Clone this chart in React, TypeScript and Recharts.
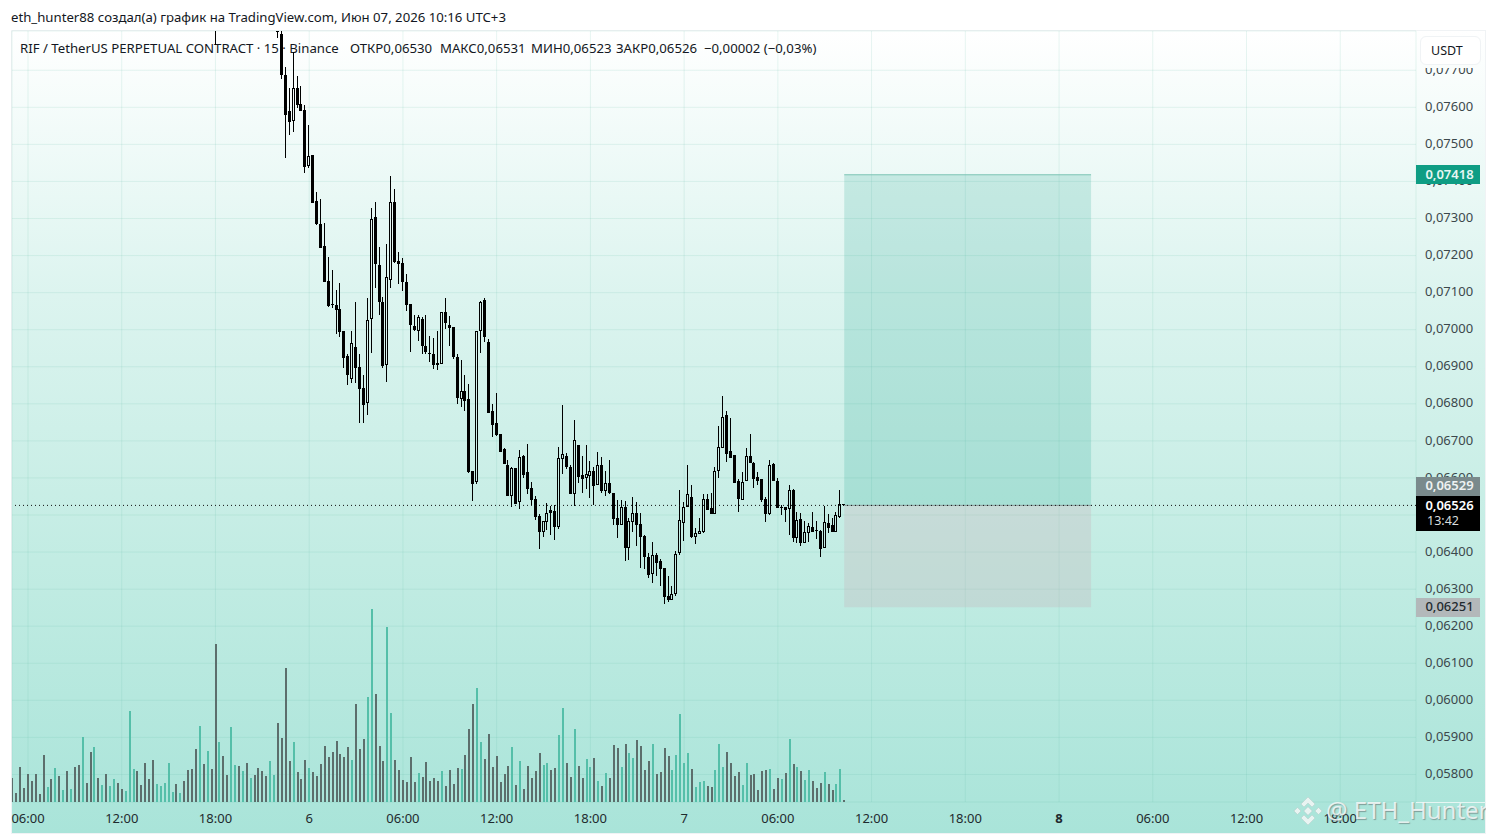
import { Bar, CartesianGrid, ComposedChart, ReferenceArea, ReferenceLine, XAxis, YAxis } from 'recharts'

// prices are in 1/100000 USDT, so 6526 reads as 0,06526
// volume is in arbitrary units, only the proportions can be read from the picture
const FIRST_BAR = -4
const FIRST_CANDLE = 64

const volumes = [
  72, 27, 105, 42, 84, 63, 84, 24, 141, 45,
  69, 102, 78, 36, 93, 39, 105, 111, 195, 57,
  150, 165, 72, 51, 84, 48, 69, 57, 39, 33,
  273, 99, 93, 51, 117, 69, 126, 54, 48, 57,
  117, 30, 54, 27, 63, 96, 99, 159, 228, 114,
  153, 99, 474, 180, 138, 81, 225, 111, 108, 93,
  117, 72, 81, 102, 93, 78, 123, 81, 237, 192,
  402, 123, 180, 90, 69, 126, 102, 90, 78, 114,
  168, 135, 150, 183, 144, 135, 165, 126, 294, 159,
  189, 315, 579, 324, 168, 123, 525, 267, 126, 96,
  66, 60, 135, 60, 87, 75, 120,
  63, 72, 63, 93, 48, 96, 54, 102, 99, 141,
  219, 294, 342, 180, 129, 204, 105, 138, 60, 84,
  108, 165, 51, 123, 39, 108, 72, 93, 147, 111,
  117, 96, 102, 201, 282, 117, 75, 219, 108, 72,
  129, 105, 132, 63, 48, 87, 72, 171, 162, 105,
  174, 147, 132, 186, 168, 96, 123, 174, 84, 90,
  162, 138, 96, 141, 264, 117, 147, 99, 45, 60,
  63, 48, 45, 96, 174, 105, 150, 117, 78, 90,
  51, 117, 81, 84, 36, 93, 96, 99, 39, 72,
  69, 87, 189, 114, 105, 93, 66, 96, 63, 42,
  57, 90, 54, 36, 54, 99, 6,
]

// g = green volume bar, d = dark volume bar
const volumeSides = (
  'dddddddddg' + 'dgdgdgddgd' + 'dgdgdggddg' + 'ggdddddggg' + 'ggdgddddgd' +
  'gddgddggdg' + 'dgddddggdd' + 'ddgdddgddd' + 'dddddddgdd' + 'dggdddggdd' + 'ddddgdd' +
  'dddgddddgd' + 'ddggdddddd' + 'dgdgdddddg' + 'gddggddgdd' + 'ggdgdgdddg' +
  'dggddddgdd' + 'ddgggggdgg' + 'gddgggdddd' + 'ggdddddgdd' + 'gdgdgdggdd' + 'dgddggd'
)

const opens = [
  7820, 7798, 7687, 7590, 7563, 7652, 7609, 7593, 7442, 7471,
  7347, 7285, 7226, 7131, 7068, 7066, 7056, 6996, 6929, 6867,
  6953, 6899, 6843, 6802, 7029, 7304, 7175, 7075, 6905, 7134,
  7344, 7185, 7180, 7129, 7069, 7010, 6996, 7029, 6956, 6937,
  6934, 6910, 6907, 7048, 7013, 7007, 6926, 6813, 6835, 6813,
  6619, 6589, 6996, 7080, 6967, 6781, 6748, 6719, 6678, 6635,
  6551, 6627, 6535, 6659, 6616, 6573, 6543, 6497, 6454, 6481,
  6514, 6511, 6468, 6651, 6659, 6630, 6557, 6689, 6608, 6600,
  6605, 6619, 6581, 6635, 6565, 6586, 6559, 6492, 6473, 6522,
  6411, 6481, 6505, 6476, 6443, 6387, 6341, 6392, 6376, 6357,
  6282, 6271, 6287, 6397, 6478, 6522, 6549, 6441, 6449, 6454,
  6543, 6519, 6503, 6619, 6681, 6770, 6673, 6662, 6592, 6540,
  6592, 6659, 6640, 6603, 6597, 6543, 6503, 6638, 6592, 6522,
  6522, 6516, 6568, 6438, 6489, 6424, 6451, 6468, 6460, 6457,
  6411, 6478, 6473, 6454, 6495, 6530,
]

const highs = [
  7830, 7806, 7709, 7652, 7749, 7684, 7657, 7606, 7552, 7471,
  7371, 7353, 7288, 7196, 7161, 7107, 7126, 6996, 6934, 6996,
  7075, 6934, 6878, 7086, 7328, 7344, 7223, 7088, 7231, 7415,
  7380, 7210, 7193, 7150, 7069, 7040, 7040, 7034, 7040, 6983,
  6978, 6996, 7048, 7086, 7037, 7007, 6934, 6918, 6878, 6853,
  6619, 6996, 7077, 7086, 6975, 6800, 6829, 6719, 6681, 6648,
  6630, 6627, 6675, 6662, 6692, 6589, 6551, 6503, 6484, 6532,
  6524, 6527, 6683, 6797, 6667, 6635, 6756, 6689, 6659, 6689,
  6646, 6630, 6670, 6656, 6619, 6648, 6559, 6540, 6540, 6538,
  6492, 6549, 6535, 6505, 6446, 6397, 6427, 6397, 6381, 6357,
  6335, 6308, 6403, 6568, 6535, 6635, 6581, 6465, 6492, 6557,
  6557, 6559, 6630, 6740, 6821, 6781, 6762, 6662, 6597, 6616,
  6681, 6719, 6643, 6616, 6597, 6549, 6648, 6640, 6600, 6527,
  6522, 6581, 6570, 6508, 6505, 6484, 6478, 6508, 6484, 6460,
  6524, 6503, 6492, 6508, 6568, 6531,
]

const lows = [
  7787, 7676, 7463, 7525, 7533, 7598, 7590, 7423, 7436, 7342,
  7282, 7220, 7129, 7061, 7058, 6988, 6980, 6897, 6851, 6856,
  6856, 6748, 6748, 6770, 6937, 7112, 7040, 6897, 6859, 7112,
  7180, 7123, 7104, 7050, 6940, 6996, 6969, 6934, 6934, 6913,
  6894, 6891, 6907, 7002, 6956, 6921, 6800, 6791, 6781, 6613,
  6538, 6584, 6937, 6967, 6775, 6710, 6713, 6670, 6638, 6551,
  6522, 6530, 6516, 6600, 6557, 6527, 6487, 6408, 6441, 6460,
  6446, 6433, 6462, 6611, 6624, 6557, 6524, 6586, 6559, 6570,
  6546, 6527, 6581, 6559, 6551, 6557, 6473, 6438, 6473, 6376,
  6379, 6454, 6416, 6357, 6354, 6330, 6317, 6335, 6308, 6260,
  6265, 6271, 6282, 6392, 6430, 6522, 6438, 6422, 6449, 6451,
  6514, 6503, 6503, 6600, 6681, 6643, 6654, 6586, 6508, 6540,
  6592, 6640, 6573, 6581, 6535, 6481, 6500, 6592, 6519, 6500,
  6481, 6446, 6427, 6424, 6416, 6424, 6427, 6454, 6435, 6387,
  6411, 6451, 6454, 6454, 6492, 6523,
]

const closes = [
  7803, 7687, 7579, 7560, 7652, 7606, 7590, 7439, 7469, 7342,
  7285, 7220, 7129, 7064, 7067, 7053, 6994, 6924, 6878, 6964,
  6897, 6840, 6797, 7026, 7299, 7177, 7075, 6902, 7142, 7344,
  7183, 7177, 7129, 7066, 7013, 6999, 7034, 6956, 6940, 6936,
  6905, 6905, 7048, 7018, 7005, 6926, 6816, 6835, 6808, 6616,
  6584, 6996, 7075, 6980, 6775, 6743, 6716, 6670, 6638, 6551,
  6627, 6530, 6656, 6608, 6570, 6540, 6495, 6454, 6484, 6505,
  6505, 6468, 6654, 6665, 6630, 6557, 6702, 6603, 6597, 6611,
  6619, 6578, 6635, 6565, 6586, 6559, 6489, 6473, 6522, 6411,
  6484, 6505, 6473, 6441, 6387, 6338, 6392, 6370, 6354, 6279,
  6271, 6287, 6395, 6487, 6522, 6557, 6441, 6451, 6457, 6543,
  6514, 6503, 6619, 6683, 6764, 6665, 6654, 6586, 6543, 6589,
  6659, 6640, 6597, 6592, 6540, 6503, 6635, 6592, 6519, 6519,
  6514, 6568, 6438, 6487, 6424, 6454, 6470, 6454, 6459, 6408,
  6481, 6465, 6454, 6500, 6530, 6526,
]

// the only candle before FIRST_CANDLE that reaches into the pane, its body is above it
const spikeCandle = { bar: 48, open: 7900, high: 7920, low: 7768, close: 7880 }

const priceTicks = [5800, 5900, 6000, 6100, 6200, 6300, 6400, 6500, 6600, 6700, 6800, 6900, 7000, 7100, 7200, 7300, 7400, 7500, 7600, 7700]
const timeTicks = [0, 24, 48, 72, 96, 120, 144, 168, 192, 216, 240, 264, 288, 312, 336]
const timeLabels = ['06:00', '12:00', '18:00', '6', '06:00', '12:00', '18:00', '7', '06:00', '12:00', '18:00', '8', '06:00', '12:00', '18:00']

const takeProfit = 7418
const lastPrice = 6526
const stopLoss = 6251
const boxStartBar = 209
const boxEndBar = 272.2

const FONT = '"Noto Sans", sans-serif'
const INK = '#131722'

const data = volumes.map((volume, i) => {
  const bar = FIRST_BAR + i
  const c = bar - FIRST_CANDLE
  const row: any = { bar, volume, side: volumeSides[i] }
  if (c >= 0) {
    row.open = opens[c]
    row.high = highs[c]
    row.low = lows[c]
    row.close = closes[c]
  } else if (bar === spikeCandle.bar) {
    Object.assign(row, spikeCandle)
  }
  return row
})

const formatPrice = (v: number) => (v / 100000).toFixed(5).replace('.', ',')

// y and height come from the [low, high] range of the Bar, the body is placed inside it
function Candle({ x, y, width, height, payload }: any) {
  if (payload.high == null) return null
  const perUnit = Math.abs(height) / (payload.high - payload.low)
  const toY = (v: number) => y + (payload.high - v) * perUnit
  const top = Math.round(toY(Math.max(payload.open, payload.close)))
  const bottom = Math.max(Math.round(toY(Math.min(payload.open, payload.close))), top + 1)
  const left = Math.round(x + width / 2 - 1.5)
  const up = payload.close >= payload.open
  const wx = left + 1.5
  return (
    <g shapeRendering="crispEdges">
      <line x1={wx} x2={wx} y1={y} y2={top} stroke="#000" />
      <line x1={wx} x2={wx} y1={bottom} y2={y + Math.abs(height)} stroke="#000" />
      {up ? (
        <rect x={left + 0.5} y={top + 0.5} width={2} height={Math.max(bottom - top - 1, 1)} fill="none" stroke="#000" />
      ) : (
        <rect x={left} y={top} width={3} height={bottom - top} fill="#000" />
      )}
    </g>
  )
}

function VolumeBar({ x, y, width, height, payload }: any) {
  return (
    <rect
      x={Math.round(x)}
      y={y}
      width={width}
      height={height}
      fill={payload.side === 'g' ? '#55bfa9' : '#5c6e6c'}
      shapeRendering="crispEdges"
    />
  )
}

function TimeTick({ x, y, payload, index }: any) {
  const label = timeLabels[index]
  return (
    <text x={x} y={y} dy={13} textAnchor="middle" fontFamily={FONT} fontSize={13} fill="#1f2a2e" fontWeight={label === '8' ? 700 : 400}>
      {label ?? payload.value}
    </text>
  )
}

const tagStyle: any = {
  position: 'absolute',
  left: 1416,
  width: 64,
  paddingLeft: 3,
  boxSizing: 'border-box',
  textAlign: 'center',
  fontFamily: FONT,
  fontSize: 13,
  lineHeight: '18px',
}

export default function App() {
  return (
    <div style={{ position: 'absolute', left: 0, top: 0, width: 1496, height: 836, background: '#fff', overflow: 'hidden' }}>
      <div style={{ position: 'absolute', left: 11, top: 10, fontFamily: FONT, fontSize: 13.2, lineHeight: '15px', color: INK, whiteSpace: 'nowrap' }}>
        eth_hunter88 создал(а) график на TradingView.com, Июн 07, 2026 10:16 UTC+3
      </div>
      <div style={{ position: 'absolute', left: 11, top: 30, width: 1473, height: 802, border: '1px solid #f0f3f5', background: 'linear-gradient(#ffffff 0%, #dcf4ef 33%, #c2ece3 66%, #a9e4d9 100%)' }} />
      <div style={{ position: 'absolute', left: 20, top: 40, height: 16, fontFamily: FONT, fontSize: 13.2, lineHeight: '16px', color: INK, whiteSpace: 'nowrap' }}>
        RIF / TetherUS PERPETUAL CONTRACT · 15 · Binance
        <span style={{ position: 'absolute', left: 330 }}>ОТКР0,06530</span>
        <span style={{ position: 'absolute', left: 420 }}>МАКС0,06531</span>
        <span style={{ position: 'absolute', left: 511 }}>МИН0,06523</span>
        <span style={{ position: 'absolute', left: 596 }}>ЗАКР0,06526</span>
        <span style={{ position: 'absolute', left: 684 }}>−0,00002 (−0,03%)</span>
      </div>

      <div style={{ position: 'absolute', left: 0, top: 0 }}>
        <ComposedChart width={1496} height={836} data={data} margin={{ top: 31, right: 11, bottom: 3, left: 12 }}>
          <XAxis
            xAxisId="time"
            dataKey="bar"
            type="number"
            domain={[-4.1, 355.4]}
            ticks={timeTicks}
            interval={0}
            allowDataOverflow
            axisLine={false}
            tickLine={false}
            height={31}
            tick={<TimeTick />}
          />
          <XAxis xAxisId="vol" dataKey="bar" type="number" domain={[-4.1, 355.4]} ticks={timeTicks} allowDataOverflow hide />
          <YAxis
            yAxisId="price"
            orientation="right"
            type="number"
            domain={[5725.7, 7805.9]}
            ticks={priceTicks}
            interval={0}
            allowDataOverflow
            axisLine={false}
            tickLine={false}
            width={69}
            tickMargin={3}
            tickFormatter={formatPrice}
            tick={{ fontFamily: FONT, fontSize: 13, fill: '#3c484c', dy: -1 }}
          />
          <YAxis yAxisId="volume" type="number" domain={[0, 2313]} hide />
          <CartesianGrid xAxisId="time" yAxisId="price" stroke="#5fb9a6" strokeOpacity={0.14} />

          <ReferenceArea xAxisId="time" yAxisId="price" x1={boxStartBar} x2={boxEndBar} y1={lastPrice} y2={takeProfit} fill="#089981" fillOpacity={0.17} stroke="none" />
          <ReferenceArea xAxisId="time" yAxisId="price" x1={boxStartBar} x2={boxEndBar} y1={stopLoss} y2={lastPrice} fill="#c6b4ba" fillOpacity={0.3} stroke="none" />
          <ReferenceLine xAxisId="time" yAxisId="price" segment={[{ x: boxStartBar, y: takeProfit }, { x: boxEndBar, y: takeProfit }]} stroke="#7cc4b5" />
          <ReferenceLine xAxisId="time" yAxisId="price" segment={[{ x: boxStartBar, y: lastPrice }, { x: boxEndBar, y: lastPrice }]} stroke="#8a9a98" />
          <ReferenceLine xAxisId="time" yAxisId="price" y={lastPrice} stroke="#111" strokeDasharray="1 3" />

          <Bar xAxisId="vol" yAxisId="volume" dataKey="volume" barSize={2} shape={<VolumeBar />} isAnimationActive={false} />
          <Bar
            xAxisId="time"
            yAxisId="price"
            dataKey={(d: any) => (d.high == null ? null : [d.low, d.high])}
            barSize={3}
            shape={<Candle />}
            isAnimationActive={false}
          />
        </ComposedChart>
      </div>

      <div style={{ position: 'absolute', left: 1420, top: 36, width: 59, height: 27, background: '#fff', border: '1px solid #f0f3f5', borderRadius: 6, boxShadow: '0 3px 0 #fafdfc', fontFamily: FONT, fontSize: 12.5, lineHeight: '27px', textIndent: 10, color: INK }}>
        USDT
      </div>
      <div style={{ ...tagStyle, top: 165, height: 19, background: '#0f9d84', color: '#e6f7f3', fontWeight: 600 }}>0,07418</div>
      <div style={{ ...tagStyle, top: 477, height: 19, background: '#7a8a8c', color: '#eef2f2', fontWeight: 600, lineHeight: '17px' }}>0,06529</div>
      <div style={{ ...tagStyle, top: 496, height: 35, background: '#000', color: '#fff', lineHeight: '16px', paddingTop: 1 }}>
        <div style={{ fontWeight: 600 }}>0,06526</div>
        <div style={{ textAlign: 'left', paddingLeft: 8, fontSize: 12.5, color: '#d8dcdc' }}>13:42</div>
      </div>
      <div style={{ ...tagStyle, top: 598, height: 19, background: '#b3b8ba', color: '#1f2a2e', fontWeight: 500, lineHeight: '17px' }}>0,06251</div>

      <div style={{ position: 'absolute', left: 1416, top: 802, width: 70, height: 1, background: '#e6f6f3' }} />
      <svg width={30} height={30} style={{ position: 'absolute', left: 1293, top: 796, opacity: 0.85 }}>
        <g fill="#f4f7f7" stroke="#b9c8c6" strokeWidth={0.5}>
          <path d="M15 1 L22 8 L19 11 L15 7 L11 11 L8 8 Z" />
          <path d="M15 29 L22 22 L19 19 L15 23 L11 19 L8 22 Z" />
          <rect x={2} y={12.5} width={5} height={5} transform="rotate(45 4.5 15)" />
          <rect x={23} y={12.5} width={5} height={5} transform="rotate(45 25.5 15)" />
          <rect x={12} y={12} width={6} height={6} transform="rotate(45 15 15)" />
        </g>
      </svg>
      <div style={{ position: 'absolute', left: 1326, top: 795, width: 160, overflow: 'hidden', fontFamily: FONT, fontSize: 24, lineHeight: '30px', color: 'rgba(245,248,248,0.85)', textShadow: '1px 1px 1px rgba(90,100,100,0.55)', whiteSpace: 'nowrap' }}>
        @ ETH_Hunter
      </div>
    </div>
  )
}
